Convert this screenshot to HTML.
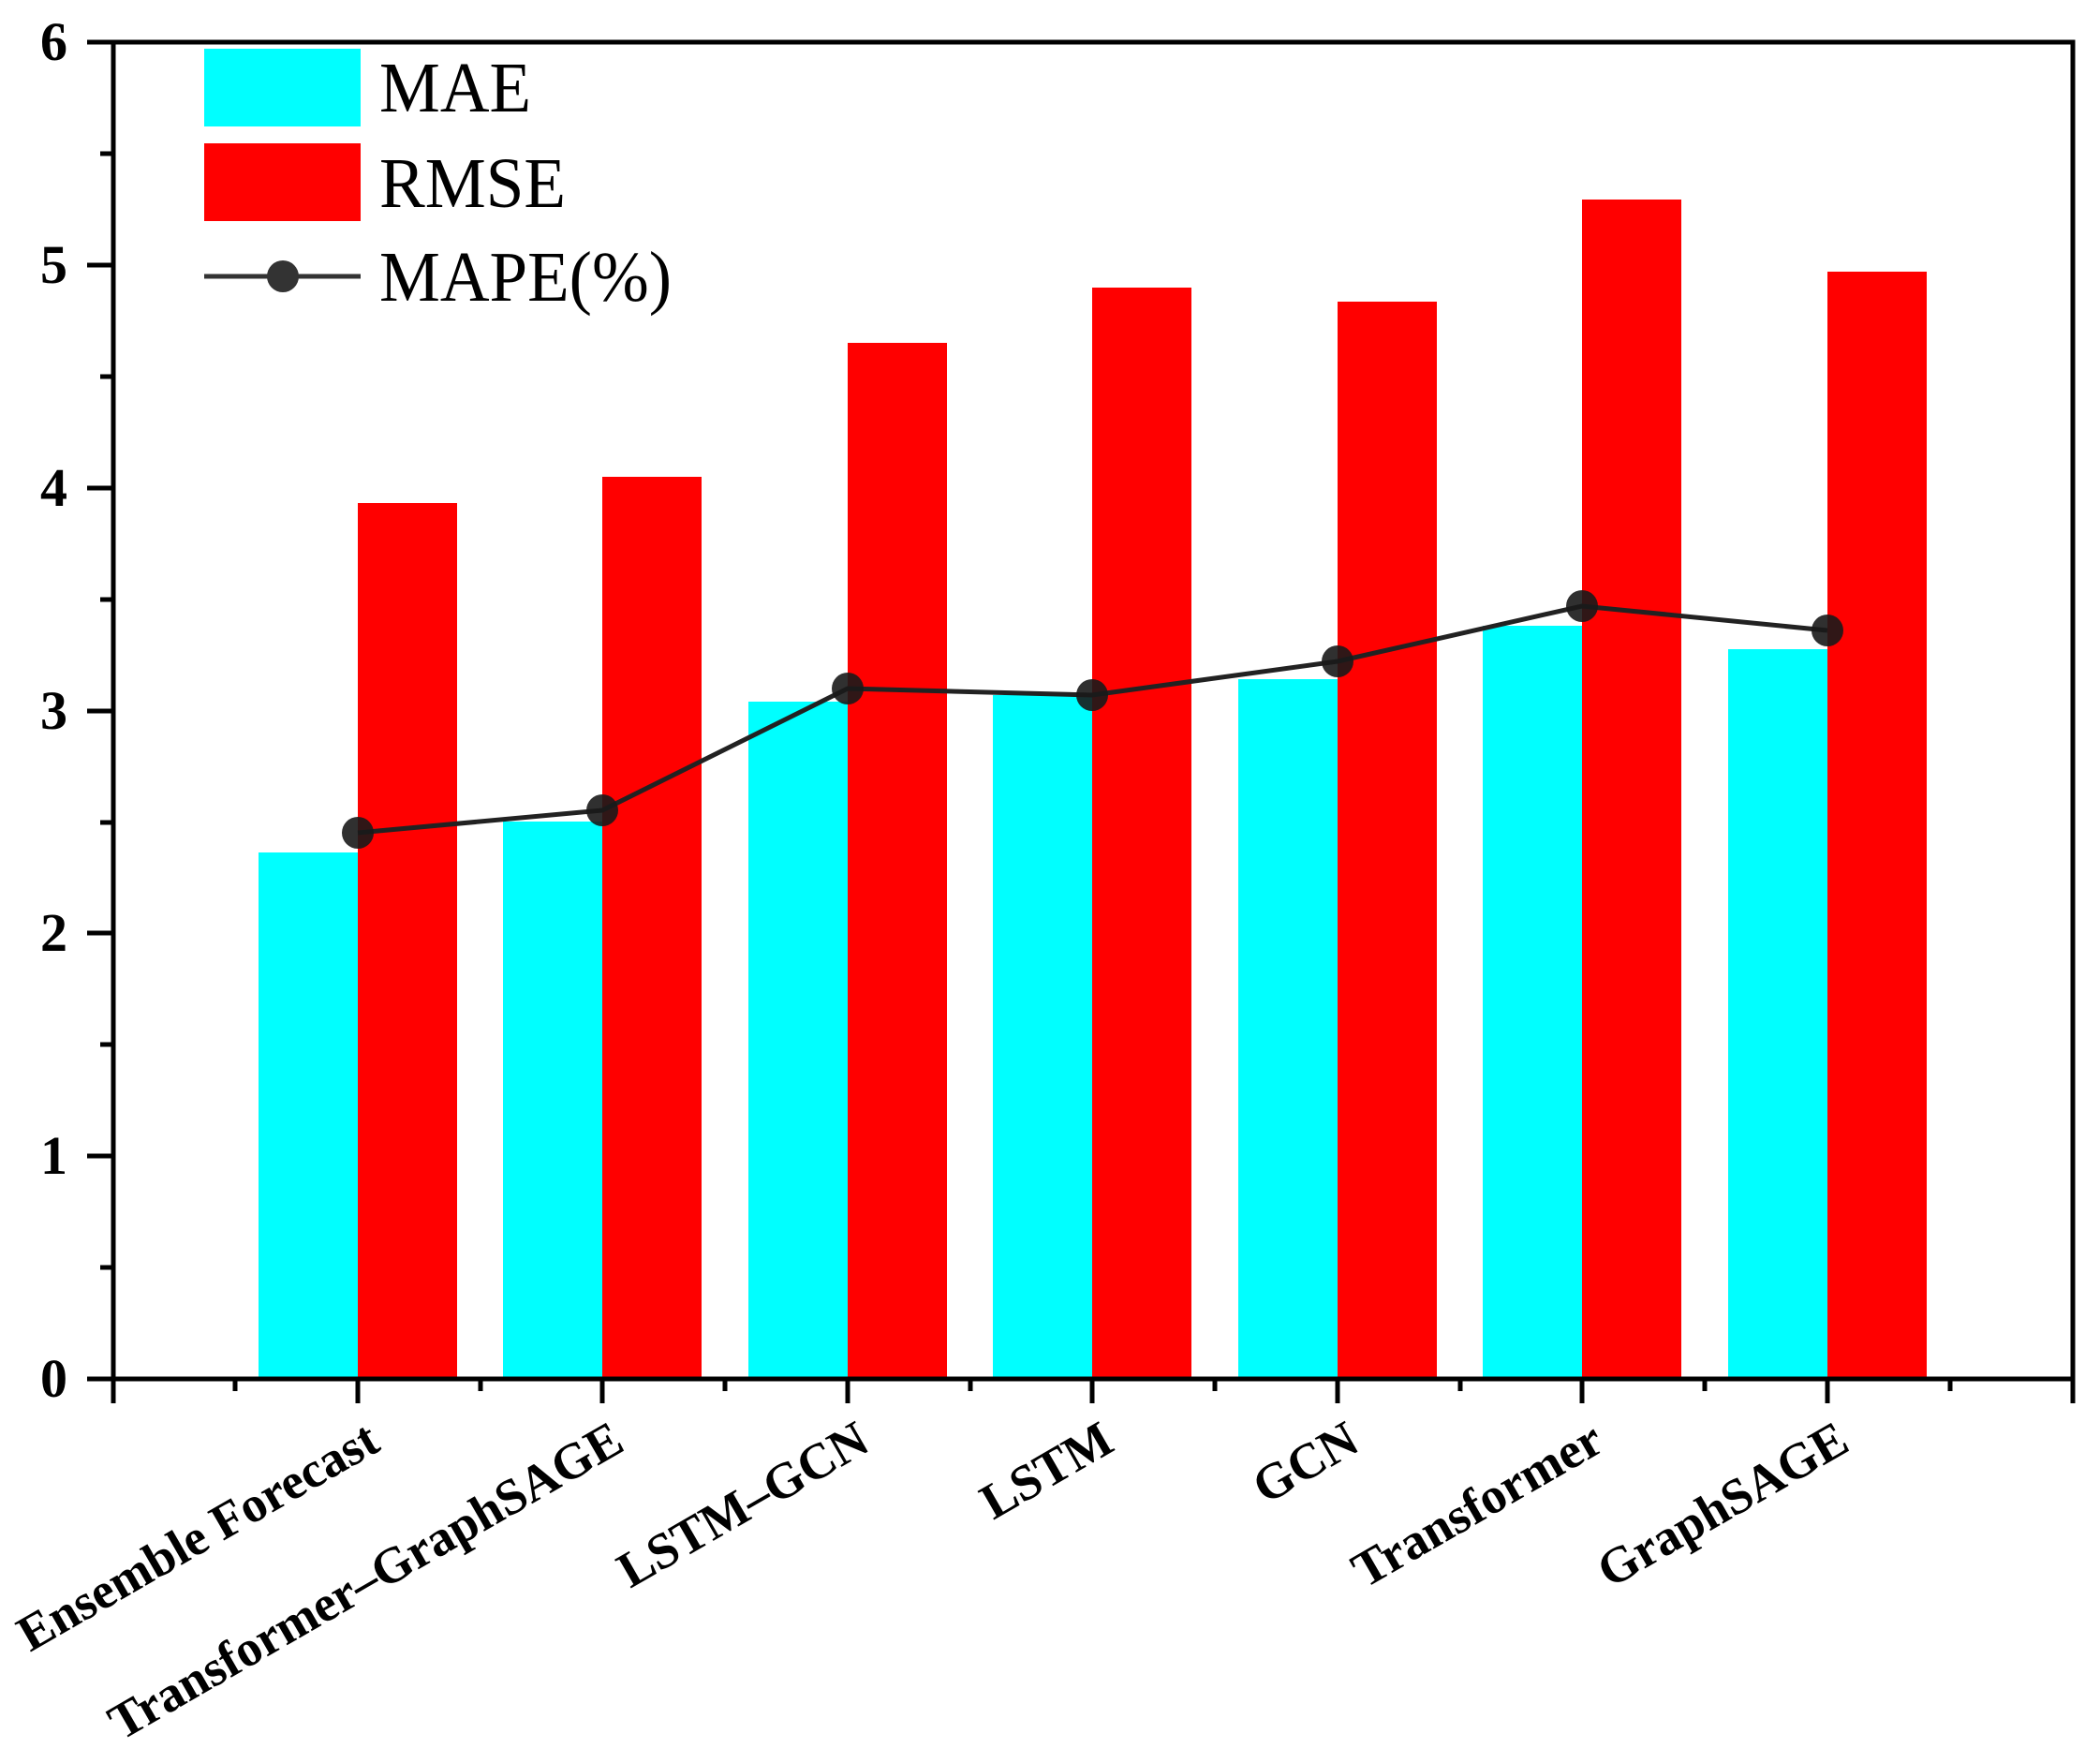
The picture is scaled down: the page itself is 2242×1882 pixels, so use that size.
<!DOCTYPE html>
<html><head><meta charset="utf-8"><style>html,body{margin:0;padding:0;background:#fff}svg{display:block}
text{font-family:"Liberation Serif","Times New Roman",Times,serif}</style></head>
<body>
<svg width="2242" height="1882" viewBox="0 0 2242 1882" xmlns="http://www.w3.org/2000/svg">
<g id="bars">
<rect x="276" y="910" width="106" height="562" fill="#00ffff"/>
<rect x="537" y="877" width="106" height="595" fill="#00ffff"/>
<rect x="799" y="749" width="106" height="723" fill="#00ffff"/>
<rect x="1060" y="742" width="106" height="730" fill="#00ffff"/>
<rect x="1322" y="725" width="106" height="747" fill="#00ffff"/>
<rect x="1583" y="668" width="106" height="804" fill="#00ffff"/>
<rect x="1845" y="693" width="106" height="779" fill="#00ffff"/>
<rect x="382" y="537" width="106" height="935" fill="#ff0000"/>
<rect x="643" y="509" width="106" height="963" fill="#ff0000"/>
<rect x="905" y="366" width="106" height="1106" fill="#ff0000"/>
<rect x="1166" y="307" width="106" height="1165" fill="#ff0000"/>
<rect x="1428" y="322" width="106" height="1150" fill="#ff0000"/>
<rect x="1689" y="213" width="106" height="1259" fill="#ff0000"/>
<rect x="1951" y="290" width="106" height="1182" fill="#ff0000"/>
</g>
<polyline points="382,889 643,865 905,735 1166,742 1428,706 1689,647 1951,673" fill="none" stroke="#222" stroke-width="5"/>
<g fill="#1a1a1a" fill-opacity="0.9">
<circle cx="382" cy="889" r="17"/><circle cx="643" cy="865" r="17"/><circle cx="905" cy="735" r="17"/>
<circle cx="1166" cy="742" r="17"/><circle cx="1428" cy="706" r="17"/><circle cx="1689" cy="647" r="17"/><circle cx="1951" cy="673" r="17"/>
</g>
<g stroke="#000" stroke-width="5" fill="none">
<rect x="121" y="45" width="2092" height="1427"/>
<path d="M93 45H121M93 283H121M93 521H121M93 759H121M93 996H121M93 1234H121M93 1472H121"/>
<path d="M107 164H121M107 402H121M107 640H121M107 878H121M107 1115H121M107 1353H121"/>
<path d="M121 1472V1498M382 1472V1498M643 1472V1498M905 1472V1498M1166 1472V1498M1428 1472V1498M1689 1472V1498M1951 1472V1498M2213 1472V1498"/>
<path d="M251 1472V1485M513 1472V1485M774 1472V1485M1036 1472V1485M1297 1472V1485M1559 1472V1485M1820 1472V1485M2082 1472V1485"/>
</g>
<g font-weight="bold" font-size="58" text-anchor="end" fill="#000">
<text x="72" y="64">6</text><text x="72" y="302">5</text><text x="72" y="540">4</text>
<text x="72" y="778">3</text><text x="72" y="1015">2</text><text x="72" y="1253">1</text><text x="72" y="1491">0</text>
</g>
<g font-weight="bold" font-size="54" text-anchor="end" fill="#000" lengthAdjust="spacingAndGlyphs">
<text transform="translate(408,1547) rotate(-30)" textLength="434" lengthAdjust="spacingAndGlyphs">Ensemble Forecast</text>
<text transform="translate(669,1547) rotate(-30)" textLength="623" lengthAdjust="spacingAndGlyphs">Transformer–GraphSAGE</text>
<text transform="translate(931,1547) rotate(-30)" textLength="298" lengthAdjust="spacingAndGlyphs">LSTM–GCN</text>
<text transform="translate(1192,1547) rotate(-30)" textLength="152" lengthAdjust="spacingAndGlyphs">LSTM</text>
<text transform="translate(1454,1547) rotate(-30)" textLength="119" lengthAdjust="spacingAndGlyphs">GCN</text>
<text transform="translate(1715,1547) rotate(-30)" textLength="298" lengthAdjust="spacingAndGlyphs">Transformer</text>
<text transform="translate(1977,1547) rotate(-30)" textLength="298" lengthAdjust="spacingAndGlyphs">GraphSAGE</text>
</g>
<rect x="218" y="52" width="167" height="83" fill="#00ffff"/>
<rect x="218" y="153" width="167" height="83" fill="#ff0000"/>
<line x1="218" y1="295" x2="385" y2="295" stroke="#333" stroke-width="5"/>
<circle cx="302" cy="295" r="17" fill="#333"/>
<g font-size="76" fill="#000">
<text x="405" y="119" textLength="162" lengthAdjust="spacingAndGlyphs">MAE</text>
<text x="405" y="221" textLength="199" lengthAdjust="spacingAndGlyphs">RMSE</text>
<text x="405" y="321" textLength="312" lengthAdjust="spacingAndGlyphs">MAPE(%)</text>
</g>
</svg>
</body></html>
